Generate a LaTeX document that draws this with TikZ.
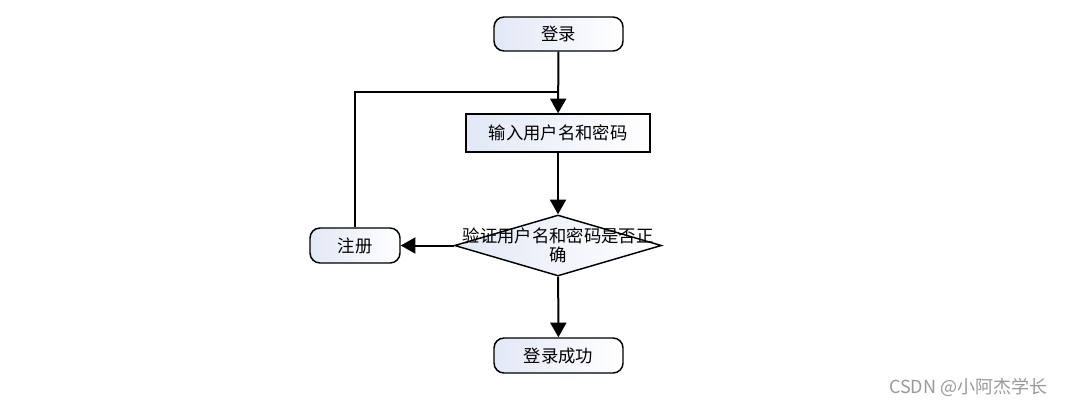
\documentclass[tikz,border=0pt]{standalone}
\usepackage{fontspec}
\setmainfont{Noto Sans CJK SC}
\usepackage{tikz}
\usetikzlibrary{positioning, arrows.meta, shapes}

\definecolor{shadeblue}{RGB}{226,232,246}

\begin{document}
\begin{tikzpicture}[
            x=0.75pt, y=-0.75pt,
            block/.style={rectangle, draw, line width=1.1pt, left color=shadeblue, right color=white, font=\fontsize{13}{16}\selectfont},
            term/.style={block, rounded corners=7.5pt},
            decision/.style={diamond, draw, line width=1.1pt, left color=shadeblue, right color=white, inner sep=0pt},
            flow/.style={line width=1.5pt, -{Triangle[width=12pt,length=11pt]}},
            every node/.style={align=center}
        ]
        \useasboundingbox (0,0) rectangle (1066,407);

        % Blocks
        \node[term, minimum width=96.75pt, minimum height=25.5pt] (login) at (558.5,34) {登录};
        \node[block, minimum width=138pt, minimum height=28.5pt] (input) at (558,133) {输入用户名和密码};
        \node[decision, minimum width=155.25pt, minimum height=45.75pt] (check) at (558,245.5) {};
        \node[font=\fontsize{13}{14.5}\selectfont, inner sep=0pt] (checktext) at (check) {验证用户名和密码是否正\\确};
        \node[term, minimum width=67.5pt, minimum height=26.25pt] (register) at (355,245.5) {注册};
        \node[term, minimum width=96.75pt, minimum height=26.25pt] (success) at (558.5,355.5) {登录成功};

        % join point of the loop
        \coordinate (join) at (558,92);

        \draw[flow] (login) -- (input);
        \draw[flow] (input) -- (check);
        \draw[flow] (check) -- (register);
        \draw[flow] (check) -- (success);
        \draw[line width=1.5pt] (register) |- (join);

        \node[text=gray!80, font=\fontsize{13.5}{16}\selectfont, anchor=east] (mark) at (1052,387) {CSDN @小阿杰学长};

    \end{tikzpicture}
\end{document}
